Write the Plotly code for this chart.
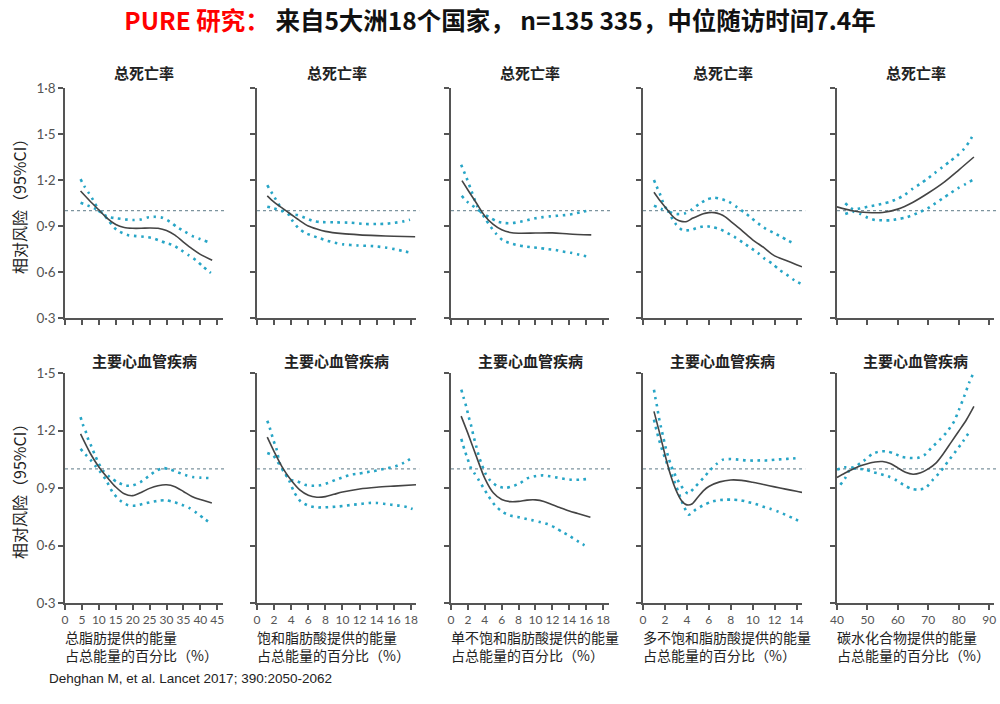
import plotly.graph_objects as go

W, H = 1000, 704

# ---- 总死亡率 (top row) ----
# 总脂肪
fat_mort_x = [4.6, 7.5, 10, 12.5, 15, 17.5, 20, 22.5, 25, 27.5, 30, 32.5, 35, 37.5, 40, 43.5]
fat_mort_y = [1.128, 1.06, 1.005, 0.95, 0.91, 0.89, 0.885, 0.885, 0.887, 0.885, 0.87, 0.84, 0.795, 0.752, 0.715, 0.677]
fat_mort_hi_x = [4.6, 5.8, 7.1, 8.3, 10.3, 12.7, 15.4, 17.7, 20.2, 22.4, 24.4, 26.6, 28.8, 31, 33, 35.5, 37.7, 39.9, 42.1]
fat_mort_hi_y = [1.205, 1.157, 1.113, 1.07, 0.993, 0.96, 0.95, 0.943, 0.939, 0.943, 0.956, 0.96, 0.954, 0.928, 0.895, 0.862, 0.834, 0.815, 0.797]
fat_mort_lo_x = [4.6, 6.8, 9.1, 11, 12.9, 14.5, 16.2, 18.7, 21.1, 23.3, 25.6, 27.6, 29.7, 32, 34.3, 36.5, 38.7, 40.9, 43.1]
fat_mort_lo_y = [1.052, 1.033, 1.011, 0.985, 0.935, 0.89, 0.862, 0.84, 0.834, 0.83, 0.823, 0.808, 0.79, 0.775, 0.743, 0.71, 0.677, 0.633, 0.594]

# 饱和脂肪酸
sfa_mort_x = [1.2, 2, 3, 4, 5, 6, 7, 8, 10, 12, 14, 16, 18.5]
sfa_mort_y = [1.096, 1.055, 1.015, 0.975, 0.935, 0.90, 0.88, 0.865, 0.85, 0.842, 0.837, 0.833, 0.83]
sfa_mort_hi_x = [1.2, 2.07, 3.0, 3.8, 4.7, 5.6, 6.5, 7.4, 9.2, 11, 12.6, 14.3, 15.2, 16.1, 17.1, 17.9]
sfa_mort_hi_y = [1.166, 1.085, 1.004, 0.978, 0.972, 0.954, 0.934, 0.926, 0.924, 0.921, 0.913, 0.913, 0.915, 0.921, 0.93, 0.941]
sfa_mort_lo_x = [1.2, 2.0, 2.9, 3.7, 4.2, 4.8, 5.6, 6.5, 7.4, 8.2, 9.1, 10.1, 11.8, 13.6, 15.2, 16.1, 17.0, 17.9]
sfa_mort_lo_y = [1.026, 1.015, 0.998, 0.975, 0.93, 0.889, 0.856, 0.836, 0.819, 0.804, 0.791, 0.78, 0.773, 0.769, 0.758, 0.749, 0.738, 0.727]

# 单不饱和脂肪酸
mufa_mort_x = [1.3, 2, 3, 4, 5, 6, 7, 8, 10, 12, 14, 16.6]
mufa_mort_y = [1.196, 1.135, 1.05, 0.965, 0.91, 0.875, 0.858, 0.853, 0.854, 0.855, 0.848, 0.842]
mufa_mort_hi_x = [1.2, 1.86, 2.45, 3.1, 3.6, 4.5, 5.4, 6.4, 7.3, 8.2, 9.1, 10, 10.9, 11.7, 12.6, 13.5, 14.4, 15.3, 16.2]
mufa_mort_hi_y = [1.30, 1.211, 1.124, 1.03, 0.987, 0.958, 0.93, 0.919, 0.919, 0.928, 0.939, 0.95, 0.958, 0.963, 0.967, 0.971, 0.978, 0.989, 1.0]
mufa_mort_lo_x = [1.26, 2.05, 3.0, 3.6, 4.15, 4.7, 5.3, 6.1, 7.0, 7.9, 8.8, 9.8, 10.6, 11.4, 12.4, 13.2, 14.2, 15.1, 16.0]
mufa_mort_lo_y = [1.096, 1.052, 1.015, 0.987, 0.939, 0.895, 0.852, 0.808, 0.788, 0.775, 0.766, 0.76, 0.756, 0.749, 0.743, 0.734, 0.725, 0.714, 0.703]

# 多不饱和脂肪酸
pufa_mort_x = [1, 1.5, 2, 2.5, 3, 3.5, 4, 4.5, 5, 5.5, 6, 6.5, 7, 7.5, 8, 9, 10, 11, 12, 13, 14, 14.5]
pufa_mort_y = [1.12, 1.07, 1.025, 0.98, 0.945, 0.93, 0.93, 0.95, 0.965, 0.98, 0.987, 0.987, 0.978, 0.96, 0.93, 0.872, 0.81, 0.76, 0.705, 0.677, 0.648, 0.634]
pufa_mort_hi_x = [1.0, 1.25, 1.52, 1.74, 2.0, 2.43, 3.04, 3.8, 4.47, 5.1, 5.84, 6.5, 7.15, 7.85, 8.5, 9.2, 9.9, 10.5, 11.2, 11.9, 12.6, 13.2, 13.9]
pufa_mort_hi_y = [1.20, 1.157, 1.113, 1.07, 1.026, 0.993, 0.978, 0.982, 1.009, 1.043, 1.074, 1.085, 1.076, 1.057, 1.026, 0.991, 0.952, 0.917, 0.882, 0.856, 0.83, 0.806, 0.782]
pufa_mort_lo_x = [1.0, 1.74, 2.37, 2.7, 3.04, 3.6, 4.3, 5.0, 5.7, 6.4, 7.06, 7.7, 8.4, 9.1, 9.8, 10.5, 11.1, 11.8, 12.4, 13.1, 13.8, 14.5]
pufa_mort_lo_y = [1.033, 1.009, 0.991, 0.943, 0.908, 0.873, 0.873, 0.889, 0.9, 0.891, 0.878, 0.854, 0.826, 0.793, 0.758, 0.723, 0.686, 0.654, 0.616, 0.583, 0.546, 0.52]

# 碳水化合物
carb_mort_x = [40, 45, 50, 55, 60, 65, 70, 75, 80, 85]
carb_mort_y = [1.025, 1.0, 0.988, 0.988, 1.01, 1.055, 1.115, 1.183, 1.265, 1.35]
carb_mort_hi_x = [42.7, 45.3, 47.7, 50.1, 52.6, 55.1, 57.5, 60, 62.4, 64.8, 67.4, 69.8, 72.3, 74.6, 77, 79.4, 81.6, 83.5, 84.9]
carb_mort_hi_y = [1.048, 1.009, 1.015, 1.026, 1.035, 1.046, 1.059, 1.078, 1.105, 1.142, 1.176, 1.209, 1.248, 1.283, 1.32, 1.357, 1.40, 1.45, 1.50]
carb_mort_lo_x = [42.7, 45.3, 47.7, 50.1, 52.6, 55.1, 57.5, 60, 62.4, 64.9, 67.4, 69.8, 72.3, 74.8, 77.2, 79.7, 82.1, 84.6]
carb_mort_lo_y = [0.978, 0.993, 0.978, 0.954, 0.939, 0.937, 0.937, 0.945, 0.954, 0.971, 0.993, 1.015, 1.048, 1.081, 1.113, 1.146, 1.172, 1.2]

# ---- 主要心血管疾病 (bottom row) ----
fat_cvd_x = [4.6, 7.5, 10, 12.5, 15, 17.5, 20, 22.5, 25, 27.5, 30, 32.5, 35, 37.5, 40, 43.4]
fat_cvd_y = [1.182, 1.08, 1.01, 0.955, 0.905, 0.87, 0.86, 0.877, 0.898, 0.912, 0.917, 0.907, 0.882, 0.856, 0.84, 0.822]
fat_cvd_hi_x = [4.6, 5.3, 6.1, 6.9, 7.8, 8.8, 9.9, 11.3, 13.2, 15.4, 17.7, 20, 22.3, 24.6, 26.9, 29.1, 31.2, 33.3, 35.5, 37.7, 39.9, 42.4]
fat_cvd_hi_y = [1.27, 1.23, 1.196, 1.152, 1.117, 1.074, 1.03, 0.99, 0.957, 0.931, 0.913, 0.913, 0.931, 0.96, 0.99, 1.004, 0.996, 0.982, 0.968, 0.957, 0.954, 0.952]
fat_cvd_lo_x = [4.6, 6.1, 7.5, 8.9, 10.3, 12.1, 14.2, 16.4, 18.7, 20.9, 23.3, 25.6, 27.9, 30, 32.2, 34.5, 36.7, 38.9, 41.1, 43.4]
fat_cvd_lo_y = [1.104, 1.074, 1.048, 1.017, 0.987, 0.943, 0.874, 0.834, 0.81, 0.808, 0.818, 0.827, 0.834, 0.836, 0.827, 0.813, 0.796, 0.77, 0.74, 0.712]

sfa_cvd_x = [1.2, 2, 3, 4, 5, 6, 7, 8, 9, 10, 12, 14, 16, 18.6]
sfa_cvd_y = [1.165, 1.09, 1.005, 0.94, 0.89, 0.862, 0.852, 0.855, 0.867, 0.879, 0.895, 0.904, 0.91, 0.917]
sfa_cvd_hi_x = [1.2, 1.5, 1.9, 2.3, 2.65, 3.2, 3.9, 4.7, 5.6, 6.5, 7.4, 8.3, 9.2, 10.1, 11, 11.9, 12.7, 13.6, 14.5, 15.3, 16.2, 17.1, 17.9]
sfa_cvd_hi_y = [1.251, 1.213, 1.152, 1.1, 1.03, 0.978, 0.943, 0.935, 0.917, 0.912, 0.914, 0.926, 0.943, 0.957, 0.97, 0.975, 0.982, 0.987, 0.996, 1.004, 1.013, 1.03, 1.051]
sfa_cvd_lo_x = [1.2, 1.9, 2.5, 3.2, 3.8, 4.4, 5.1, 6.0, 6.9, 7.8, 8.7, 9.6, 10.4, 11.3, 12.2, 13.1, 14, 14.8, 15.7, 16.6, 17.5, 18.2]
sfa_cvd_lo_y = [1.083, 1.069, 1.03, 0.987, 0.935, 0.874, 0.83, 0.808, 0.799, 0.799, 0.801, 0.804, 0.808, 0.813, 0.817, 0.822, 0.822, 0.818, 0.813, 0.808, 0.801, 0.79]

mufa_cvd_x = [1.2, 2, 3, 4, 5, 6, 7, 8, 9, 10, 11, 12, 13, 14, 15, 16.5]
mufa_cvd_y = [1.275, 1.185, 1.065, 0.95, 0.875, 0.84, 0.829, 0.83, 0.837, 0.838, 0.83, 0.812, 0.796, 0.78, 0.767, 0.747]
mufa_cvd_hi_x = [1.22, 1.5, 1.8, 2.08, 2.4, 2.67, 2.99, 3.3, 3.65, 4.05, 4.56, 5.4, 6.4, 7.3, 8.2, 9.0, 9.9, 10.8, 11.7, 12.6, 13.5, 14.3, 15.2, 16.1]
mufa_cvd_hi_y = [1.413, 1.37, 1.326, 1.274, 1.222, 1.17, 1.117, 1.065, 1.022, 0.978, 0.943, 0.912, 0.9, 0.909, 0.926, 0.95, 0.961, 0.966, 0.961, 0.954, 0.947, 0.943, 0.943, 0.947]
mufa_cvd_lo_x = [1.22, 1.57, 1.96, 2.36, 2.75, 3.26, 3.85, 4.44, 5.2, 6.1, 7.0, 7.9, 8.8, 9.7, 10.5, 11.4, 12.3, 13.2, 14.1, 14.9, 15.8]
mufa_cvd_lo_y = [1.156, 1.103, 1.053, 1.004, 0.978, 0.943, 0.9, 0.857, 0.81, 0.775, 0.756, 0.749, 0.74, 0.731, 0.723, 0.712, 0.694, 0.67, 0.648, 0.625, 0.601]

pufa_cvd_x = [1, 1.5, 2, 2.5, 3, 3.5, 4, 4.5, 5, 5.5, 6, 7, 8, 9, 10, 11, 12, 13, 14, 14.5]
pufa_cvd_y = [1.30, 1.19, 1.075, 0.97, 0.89, 0.835, 0.812, 0.818, 0.852, 0.885, 0.908, 0.932, 0.942, 0.94, 0.93, 0.918, 0.906, 0.894, 0.883, 0.877]
pufa_cvd_hi_x = [1.0, 1.13, 1.28, 1.43, 1.62, 1.83, 2.04, 2.29, 2.59, 2.99, 3.5, 4.1, 4.8, 5.5, 6.1, 6.7, 7.3, 8.0, 8.7, 9.4, 10.06, 10.7, 11.4, 12.1, 12.8, 13.5, 14.2]
pufa_cvd_hi_y = [1.413, 1.37, 1.326, 1.274, 1.222, 1.17, 1.117, 1.065, 1.013, 0.961, 0.909, 0.871, 0.909, 0.952, 0.992, 1.025, 1.048, 1.051, 1.048, 1.044, 1.043, 1.044, 1.044, 1.048, 1.051, 1.053, 1.057]
pufa_cvd_lo_x = [1.0, 1.22, 1.46, 1.74, 2.04, 2.35, 2.74, 3.2, 3.66, 4.18, 4.8, 5.5, 6.16, 6.86, 7.56, 8.23, 8.9, 9.57, 10.24, 10.9, 11.6, 12.26, 12.96, 13.66, 14.3]
pufa_cvd_lo_y = [1.257, 1.204, 1.152, 1.1, 1.051, 1.004, 0.952, 0.883, 0.813, 0.761, 0.787, 0.81, 0.827, 0.836, 0.839, 0.839, 0.836, 0.827, 0.817, 0.804, 0.792, 0.778, 0.761, 0.743, 0.726]

carb_cvd_x = [40, 42.5, 45, 47.5, 50, 52.5, 55, 57.5, 60, 62.5, 65, 67.5, 70, 72.5, 75, 77.5, 80, 82.5, 85]
carb_cvd_y = [0.955, 0.977, 0.997, 1.015, 1.027, 1.036, 1.038, 1.028, 1.005, 0.982, 0.972, 0.98, 1.0, 1.03, 1.08, 1.138, 1.196, 1.255, 1.326]
carb_cvd_hi_x = [40, 42.7, 45.5, 47.7, 49.3, 51.5, 54, 56.5, 58.9, 61.4, 63.8, 66.4, 68.9, 71.3, 73.8, 76.3, 78.5, 80.1, 81.8, 83.4, 85.1]
carb_cvd_hi_y = [0.996, 1.008, 1.008, 1.03, 1.048, 1.077, 1.091, 1.091, 1.079, 1.062, 1.057, 1.057, 1.074, 1.114, 1.152, 1.196, 1.248, 1.309, 1.378, 1.448, 1.509]
carb_cvd_lo_x = [41.1, 42.7, 44.4, 46.6, 49.3, 51.8, 54.3, 56.8, 59.2, 61.8, 64.2, 66.6, 69.1, 71.5, 74.1, 76.5, 79, 81.4, 84]
carb_cvd_lo_y = [0.917, 0.952, 1.0, 1.0, 0.996, 0.983, 0.973, 0.961, 0.943, 0.917, 0.897, 0.891, 0.9, 0.943, 0.987, 1.039, 1.091, 1.143, 1.204]

# ---- labels / ticks ----
row_titles = ['总死亡率', '主要心血管疾病']
x_titles = ['总脂肪提供的能量', '饱和脂肪酸提供的能量', '单不饱和脂肪酸提供的能量',
            '多不饱和脂肪酸提供的能量', '碳水化合物提供的能量']
x_sub = '占总能量的百分比（%）'
y_title = '相对风险（95%CI）'
x_ticks = [[0, 5, 10, 15, 20, 25, 30, 35, 40, 45],
           [0, 2, 4, 6, 8, 10, 12, 14, 16, 18],
           [0, 2, 4, 6, 8, 10, 12, 14, 16, 18],
           [0, 2, 4, 6, 8, 10, 12, 14],
           [40, 50, 60, 70, 80, 90]]
x_ranges = [[0, 46.7], [0, 18.6], [0, 18.7], [0, 14.5], [40, 91.6]]
y_ticks_top = [0.3, 0.6, 0.9, 1.2, 1.5, 1.8]
y_text_top = ['0·3', '0·6', '0·9', '1·2', '1·5', '1·8']
y_ticks_bot = [0.3, 0.6, 0.9, 1.2, 1.5]
y_text_bot = ['0·3', '0·6', '0·9', '1·2', '1·5']

panels = [
    [(fat_mort_x, fat_mort_y, fat_mort_hi_x, fat_mort_hi_y, fat_mort_lo_x, fat_mort_lo_y),
     (sfa_mort_x, sfa_mort_y, sfa_mort_hi_x, sfa_mort_hi_y, sfa_mort_lo_x, sfa_mort_lo_y),
     (mufa_mort_x, mufa_mort_y, mufa_mort_hi_x, mufa_mort_hi_y, mufa_mort_lo_x, mufa_mort_lo_y),
     (pufa_mort_x, pufa_mort_y, pufa_mort_hi_x, pufa_mort_hi_y, pufa_mort_lo_x, pufa_mort_lo_y),
     (carb_mort_x, carb_mort_y, carb_mort_hi_x, carb_mort_hi_y, carb_mort_lo_x, carb_mort_lo_y)],
    [(fat_cvd_x, fat_cvd_y, fat_cvd_hi_x, fat_cvd_hi_y, fat_cvd_lo_x, fat_cvd_lo_y),
     (sfa_cvd_x, sfa_cvd_y, sfa_cvd_hi_x, sfa_cvd_hi_y, sfa_cvd_lo_x, sfa_cvd_lo_y),
     (mufa_cvd_x, mufa_cvd_y, mufa_cvd_hi_x, mufa_cvd_hi_y, mufa_cvd_lo_x, mufa_cvd_lo_y),
     (pufa_cvd_x, pufa_cvd_y, pufa_cvd_hi_x, pufa_cvd_hi_y, pufa_cvd_lo_x, pufa_cvd_lo_y),
     (carb_cvd_x, carb_cvd_y, carb_cvd_hi_x, carb_cvd_hi_y, carb_cvd_lo_x, carb_cvd_lo_y)],
]

# pixel layout of the panels (screen pixels of the reference)
col_px = [(65, 223), (257, 416), (451, 609), (643, 802), (837, 994)]
row_px = [(88, 318), (373, 603)]

CJK = 'Noto Sans CJK SC'
AX = '#555555'
CI_COLOR = '#27a5c6'


def px(p):
    return p / W


def py(p):
    return 1 - p / H


fig = go.Figure()
layout = {}
shapes = []
annotations = []

for r in range(2):
    for c in range(5):
        n = r * 5 + c + 1
        sx = '' if n == 1 else str(n)
        xa, ya = 'x' + sx, 'y' + sx
        mx, my, hx, hy, lx, ly = panels[r][c]

        for cx, cy in [(hx, hy), (lx, ly)]:
            fig.add_trace(go.Scatter(
                x=cx, y=cy, mode='lines', xaxis=xa, yaxis=ya,
                line=dict(color=CI_COLOR, width=2.6, dash='2.6px,4.6px',
                          shape='spline', smoothing=0.6),
                showlegend=False, hoverinfo='skip'))
        fig.add_trace(go.Scatter(
            x=mx, y=my, mode='lines', xaxis=xa, yaxis=ya,
            line=dict(color='#444444', width=1.6, shape='spline', smoothing=0.8),
            showlegend=False))

        x0, x1 = col_px[c]
        y0, y1 = row_px[r]
        layout['xaxis' + sx] = dict(
            domain=[px(x0), px(x1)], anchor=ya, range=x_ranges[c],
            tickvals=x_ticks[c], showticklabels=(r == 1), automargin=False,
            showline=True, linecolor=AX, linewidth=1.5,
            ticks='outside', ticklen=5, tickwidth=1.5, tickcolor=AX,
            showgrid=False, zeroline=False,
            tickfont=dict(family='Lato', size=12, color='#555555'))
        layout['yaxis' + sx] = dict(
            domain=[py(y1), py(y0)], anchor=xa, automargin=False,
            range=[0.3, 1.8] if r == 0 else [0.3, 1.5],
            tickvals=y_ticks_top if r == 0 else y_ticks_bot,
            ticktext=y_text_top if r == 0 else y_text_bot,
            showticklabels=(c == 0),
            showline=True, linecolor=AX, linewidth=1.5,
            ticks='outside', ticklen=5, tickwidth=1.5, tickcolor=AX,
            showgrid=False, zeroline=False,
            tickfont=dict(family='Lato', size=13.5, color='#555555'))

        # reference line at RR = 1
        shapes.append(dict(type='line', xref=xa + ' domain', yref=ya,
                           x0=0, x1=1.02, y0=1, y1=1, layer='below',
                           line=dict(color='#7d949e', width=1.2, dash='3px,3px')))

        # panel title
        annotations.append(dict(
            text='<b>' + row_titles[r] + '</b>', xref='paper', yref='paper',
            x=px((x0 + x1) / 2), y=py(72 if r == 0 else 360),
            xanchor='center', yanchor='middle', showarrow=False,
            font=dict(family=CJK, size=15, color='#222222')))

        if r == 1:
            annotations.append(dict(
                text=x_titles[c] + '<br>' + x_sub, xref='paper', yref='paper',
                x=px(x0 - 2), y=py(646), xanchor='left', yanchor='middle',
                align='left', showarrow=False,
                font=dict(family=CJK, size=14, color='#222222')))

    annotations.append(dict(
        text=y_title, xref='paper', yref='paper', x=px(19),
        y=py(sum(row_px[r]) / 2), textangle=-90, xanchor='center',
        yanchor='middle', showarrow=False,
        font=dict(family=CJK, size=16, color='#222222')))

annotations.append(dict(
    text='Dehghan M, et al. Lancet 2017; 390:2050-2062', xref='paper', yref='paper',
    x=px(47), y=py(678), xanchor='left', yanchor='middle', showarrow=False,
    font=dict(family='Liberation Sans', size=13.5, color='#222222')))

fig.update_layout(
    **layout,
    shapes=shapes,
    annotations=annotations,
    title=dict(
        text='<b><span style="color:#ff0000">PURE 研究：</span> 来自5大洲18个国家， n=135 335，中位随访时间7.4年</b>',
        x=px(500), xanchor='center', y=py(21), yanchor='middle',
        font=dict(family=CJK, size=24.5, color='#111111')),
    width=W, height=H,
    margin=dict(l=0, r=0, t=0, b=0),
    paper_bgcolor='white', plot_bgcolor='white',
    showlegend=False,
)

# drop the default page margin so the figure sits at the window's corner
fig.write_html("out.html", config={'displayModeBar': False},
               post_script="document.body.style.margin='0';")
